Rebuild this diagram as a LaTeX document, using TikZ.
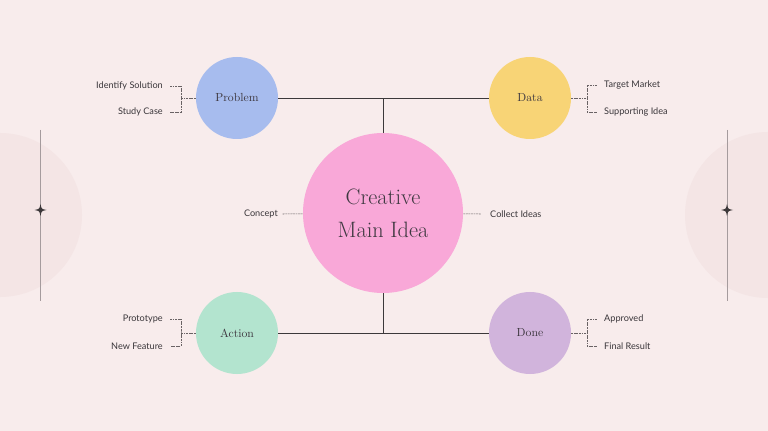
\documentclass[tikz,border=0pt]{standalone}
\usepackage{fontspec}
\setsansfont{Lato}
\usepackage{xcolor}
\usepackage{tikz}
\usetikzlibrary{calc,positioning}
\definecolor{bgpink}{RGB}{248,236,236}
\definecolor{fadepink}{RGB}{244,229,229}
\definecolor{mainpink}{RGB}{249,168,216}
\definecolor{probblue}{RGB}{167,188,238}
\definecolor{datayellow}{RGB}{248,212,118}
\definecolor{actgreen}{RGB}{179,228,207}
\definecolor{donepurple}{RGB}{209,180,220}
\definecolor{inktext}{RGB}{62,56,64}
\definecolor{leaftext}{RGB}{58,54,58}
\definecolor{linkgray}{RGB}{60,56,58}
\definecolor{twiggray}{RGB}{105,98,100}
\definecolor{railgray}{RGB}{165,155,157}
\tikzset{
	topic/.style={circle,minimum size=2.46cm,inner sep=0pt,font=\rmfamily\fontsize{10}{12}\selectfont,text=inktext},
	leaf/.style={font=\sffamily\fontsize{7.8}{9}\selectfont,text=leaftext,inner sep=0pt},
	link/.style={draw=linkgray,line width=0.6pt},
	twig/.style={draw=twiggray,line width=0.45pt,dash pattern=on 1.6pt off 0.6pt},
	rail/.style={draw=railgray,line width=0.8pt}
}
\begin{document}
\begin{tikzpicture}[x=0.03cm,y=-0.03cm]
	\useasboundingbox (0,0) rectangle (768,431);
	\clip (0,0) rectangle (768,431);
	\fill[bgpink] (0,0) rectangle (768,431);
	\fill[fadepink] (0,215) circle [radius=82];
	\fill[fadepink] (768,215) circle [radius=83];

	\coordinate (ltop) at (40.5,130);
	\coordinate (lbot) at (40.5,301);
	\coordinate (lstar) at (40.5,210);
	\coordinate (rtop) at (727,130);
	\coordinate (rbot) at (727,301);
	\coordinate (rstar) at (727,210);
	\draw[rail] (ltop) -- (lbot);
	\draw[rail] (rtop) -- (rbot);
	\foreach \s in {lstar,rstar}
		\fill[linkgray,shift={(\s)}] (0,-6) .. controls (1,-1) .. (6,0) .. controls (1,1) .. (0,6) .. controls (-1,1) .. (-6,0) .. controls (-1,-1) .. cycle;

	\node[circle,minimum size=4.8cm,inner sep=0pt,fill=mainpink,text=inktext,align=center,
		font=\rmfamily\fontsize{19}{28}\selectfont] (main) at (383,213) {Creative\\Main Idea};
	\node[topic,fill=probblue] (problem) at (237,98) {Problem};
	\node[topic,fill=datayellow] (data) at (530,98) {Data};
	\node[topic,fill=actgreen] (action) at (237,333) {Action};
	\node[topic,fill=donepurple] (done) at (530,333) {Done};

	\coordinate (topjoin) at (383,98);
	\coordinate (botjoin) at (383,333);
	\draw[link] (problem) -- (data);
	\draw[link] (action) -- (done);
	\draw[link] (main) -- (topjoin);
	\draw[link] (main) -- (botjoin);

	\node[leaf,anchor=east] (idsol) at (163,86) {Identify Solution};
	\node[leaf,anchor=east] (study) at (163,112) {Study Case};
	\node[leaf,anchor=west] (target) at (604,85) {Target Market};
	\node[leaf,anchor=west] (support) at (604,112) {Supporting Idea};
	\node[leaf,anchor=east] (concept) at (278,214) {Concept};
	\node[leaf,anchor=west] (collect) at (490,214) {Collect Ideas};
	\node[leaf,anchor=east] (proto) at (163,319) {Prototype};
	\node[leaf,anchor=east] (newfeat) at (163,346) {New Feature};
	\node[leaf,anchor=west] (approved) at (604,319) {Approved};
	\node[leaf,anchor=west] (final) at (604,346) {Final Result};

	\coordinate (pb) at (181,98);
	\coordinate (db) at (587,98);
	\coordinate (ab) at (181,333);
	\coordinate (nb) at (587,333);
	\draw[twig] (problem) -- (pb);
	\draw[twig] ([xshift=6pt]idsol.east) -| (pb) |- ([xshift=6pt]study.east);
	\draw[twig] (data) -- (db);
	\draw[twig] ([xshift=-6pt]target.west) -| (db) |- ([xshift=-6pt]support.west);
	\draw[twig] (action) -- (ab);
	\draw[twig] ([xshift=6pt]proto.east) -| (ab) |- ([xshift=6pt]newfeat.east);
	\draw[twig] (done) -- (nb);
	\draw[twig] ([xshift=-6pt]approved.west) -| (nb) |- ([xshift=-6pt]final.west);
	\draw[twig] ([xshift=4pt]concept.east) -- (main);
	\draw[twig] ([xshift=-8pt]collect.west) -- (main);
\end{tikzpicture}
\end{document}
